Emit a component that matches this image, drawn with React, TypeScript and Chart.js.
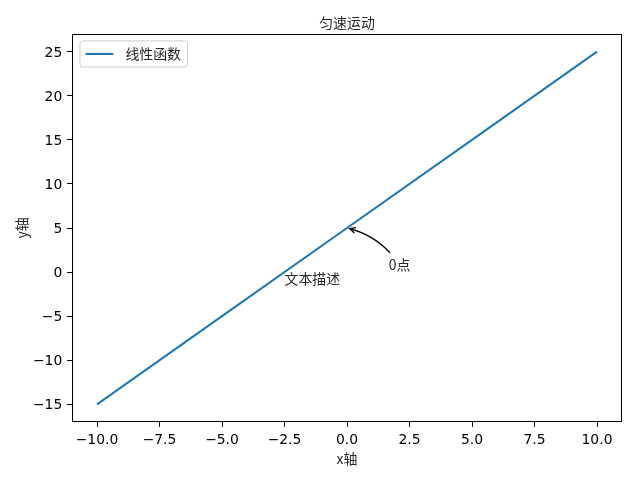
import React, { useEffect, useRef } from 'react';
import { Chart, registerables } from 'chart.js';

Chart.register(...registerables);

const X_VALUES = [-10, -5, 0, 5, 10];
const Y_VALUES = [-15, -5, 5, 15, 25];
const SERIES_LABEL = '线性函数';
const X_TICKS = [-10, -7.5, -5, -2.5, 0, 2.5, 5, 7.5, 10];
const Y_TICKS = [-15, -10, -5, 0, 5, 10, 15, 20, 25];
const X_MIN = -11;
const X_MAX = 11;
const Y_MIN = -17;
const Y_MAX = 27;
const TITLE = '匀速运动';
const X_LABEL = 'x轴';
const Y_LABEL = 'y轴';
const ANNOT_X = 0;
const ANNOT_Y = 5;
const ANNOT_TEXT = '0点';
const NOTE_X = -2.5;
const NOTE_Y = -1.3;
const NOTE_TEXT = '文本描述';

const LINE_COLOR = '#1f77b4';
const CJK = '"Noto Sans CJK SC", "Noto Sans", sans-serif';
const LATIN = '"DejaVu Sans", sans-serif';
const FS = 13.9;
const CJK_COLOR = '#262626';

const fmtMinus = (s: string) => s.replace('-', '\u2212');

const decor = {
  id: 'decor',
  afterDraw(chart: any) {
    const { ctx, chartArea: a, scales } = chart;
    const xs = scales.x;
    const ys = scales.y;
    ctx.save();

    // axes box
    ctx.strokeStyle = '#000';
    ctx.lineWidth = 1;
    ctx.strokeRect(a.left + 0.5, a.top + 0.5, a.right - a.left - 1, a.bottom - a.top - 1);

    ctx.fillStyle = CJK_COLOR;
    ctx.font = `${FS}px ${CJK}`;

    // title
    ctx.textAlign = 'center';
    ctx.textBaseline = 'alphabetic';
    ctx.fillText(TITLE, (a.left + a.right) / 2, a.top - 6.5);

    // x label
    ctx.textBaseline = 'middle';
    ctx.fillText(X_LABEL, (a.left + a.right) / 2, 459);

    // y label
    ctx.save();
    ctx.translate(22, (a.top + a.bottom) / 2);
    ctx.rotate(-Math.PI / 2);
    ctx.fillText(Y_LABEL, 0, 0);
    ctx.restore();

    // note text
    ctx.textAlign = 'left';
    ctx.textBaseline = 'alphabetic';
    ctx.fillText(NOTE_TEXT, xs.getPixelForValue(NOTE_X), ys.getPixelForValue(NOTE_Y));

    // annotation with arrow
    const px = xs.getPixelForValue(ANNOT_X);
    const py = ys.getPixelForValue(ANNOT_Y);
    const off = 30 * 1.389;
    const tx = px + off;
    const ty = py + off;
    ctx.fillText(ANNOT_TEXT, tx, ty);
    const tw = ctx.measureText(ANNOT_TEXT).width;
    const bTop = ty - 12;
    const bBot = ty + 3;
    const pad = 2.78;
    const rx0 = tx - pad, rx1 = tx + tw + pad, ry0 = bTop - pad, ry1 = bBot + pad;
    const p1x = tx + tw / 2, p1y = (bTop + bBot) / 2;
    const p2x = px, p2y = py;
    const dx = p2x - p1x;
    const dyUp = -(p2y - p1y);
    const mx = (p1x + p2x) / 2, myUp = -(p1y + p2y) / 2;
    const cx = mx + 0.2 * dyUp;
    const cy = -(myUp - 0.2 * dx);
    const N = 400;
    const pts: [number, number][] = [];
    for (let i = 0; i <= N; i++) {
      const t = i / N;
      const u = 1 - t;
      pts.push([u * u * p1x + 2 * u * t * cx + t * t * p2x, u * u * p1y + 2 * u * t * cy + t * t * p2y]);
    }
    let s = 0;
    while (s < N && pts[s][0] >= rx0 && pts[s][0] <= rx1 && pts[s][1] >= ry0 && pts[s][1] <= ry1) s++;
    const sx = pts[s][0], sy = pts[s][1];
    while (s < N && Math.hypot(pts[s][0] - sx, pts[s][1] - sy) < 2.78) s++;
    let e = N;
    while (e > s && Math.hypot(pts[e][0] - p2x, pts[e][1] - p2y) < 2.78) e--;
    ctx.strokeStyle = '#000';
    ctx.lineWidth = 1.4;
    ctx.beginPath();
    ctx.moveTo(pts[s][0], pts[s][1]);
    for (let i = s + 1; i <= e; i++) ctx.lineTo(pts[i][0], pts[i][1]);
    ctx.stroke();
    const ex = pts[e][0], ey = pts[e][1];
    const bx = pts[Math.max(s, e - 20)][0], by = pts[Math.max(s, e - 20)][1];
    const dl = Math.hypot(ex - bx, ey - by) || 1;
    const ux = (ex - bx) / dl, uy = (ey - by) / dl;
    const hl = 0.4 * FS, hw = 0.2 * FS;
    ctx.beginPath();
    ctx.moveTo(ex - hl * ux - hw * uy, ey - hl * uy + hw * ux);
    ctx.lineTo(ex, ey);
    ctx.lineTo(ex - hl * ux + hw * uy, ey - hl * uy - hw * ux);
    ctx.stroke();

    // legend
    const lx = a.left + 0.5 * FS + 1;
    const ly = a.top + 0.5 * FS;
    ctx.font = `${FS}px ${CJK}`;
    const ltw = ctx.measureText(SERIES_LABEL).width;
    const lw = 0.4 * FS + 2 * FS + 0.8 * FS + ltw + 0.4 * FS + 2;
    const lh = 26;
    const r = 3;
    ctx.beginPath();
    ctx.moveTo(lx + r, ly);
    ctx.lineTo(lx + lw - r, ly);
    ctx.quadraticCurveTo(lx + lw, ly, lx + lw, ly + r);
    ctx.lineTo(lx + lw, ly + lh - r);
    ctx.quadraticCurveTo(lx + lw, ly + lh, lx + lw - r, ly + lh);
    ctx.lineTo(lx + r, ly + lh);
    ctx.quadraticCurveTo(lx, ly + lh, lx, ly + lh - r);
    ctx.lineTo(lx, ly + r);
    ctx.quadraticCurveTo(lx, ly, lx + r, ly);
    ctx.closePath();
    ctx.fillStyle = 'rgba(255,255,255,0.8)';
    ctx.fill();
    ctx.strokeStyle = '#cccccc';
    ctx.lineWidth = 1;
    ctx.stroke();
    const cyL = ly + lh / 2;
    ctx.strokeStyle = LINE_COLOR;
    ctx.lineWidth = 2.08;
    ctx.beginPath();
    ctx.moveTo(lx + 0.4 * FS, cyL);
    ctx.lineTo(lx + 2.4 * FS, cyL);
    ctx.stroke();
    ctx.fillStyle = CJK_COLOR;
    ctx.textAlign = 'left';
    ctx.textBaseline = 'middle';
    ctx.fillText(SERIES_LABEL, lx + 3.2 * FS + 1, cyL);

    ctx.restore();
  },
};

export default function App() {
  const ref = useRef<HTMLCanvasElement | null>(null);
  useEffect(() => {
    document.body.style.margin = '0';
    if (!ref.current) return;
    const tickCommon = {
      grid: {
        display: true,
        drawOnChartArea: false,
        drawTicks: true,
        tickLength: 4.86,
        tickColor: '#000',
        tickWidth: 1,
        color: '#000',
      },
      border: { display: false },
    };
    const chart = new Chart(ref.current, {
      type: 'line',
      data: {
        datasets: [
          {
            label: SERIES_LABEL,
            data: X_VALUES.map((x, i) => ({ x, y: Y_VALUES[i] })),
            borderColor: LINE_COLOR,
            backgroundColor: LINE_COLOR,
            borderWidth: 2.08,
            pointRadius: 0,
            fill: false,
            tension: 0,
          },
        ],
      },
      options: {
        animation: false,
        responsive: false,
        devicePixelRatio: 1,
        layout: { padding: { top: 34, right: 18, left: 0, bottom: 0 } },
        plugins: {
          legend: { display: false },
          title: { display: false },
          tooltip: { enabled: false },
        },
        scales: {
          x: {
            type: 'linear',
            min: X_MIN,
            max: X_MAX,
            ...tickCommon,
            afterBuildTicks: (s: any) => {
              s.ticks = X_TICKS.map((v) => ({ value: v }));
            },
            afterFit: (s: any) => {
              s.height = 58;
            },
            ticks: {
              autoSkip: false,
              maxRotation: 0,
              padding: 4.86,
              color: '#000',
              font: { family: LATIN, size: FS },
              callback: (v: any) => fmtMinus(Number(v).toFixed(1)),
            },
          },
          y: {
            type: 'linear',
            min: Y_MIN,
            max: Y_MAX,
            ...tickCommon,
            afterBuildTicks: (s: any) => {
              s.ticks = Y_TICKS.map((v) => ({ value: v }));
            },
            afterFit: (s: any) => {
              s.width = 72;
            },
            ticks: {
              autoSkip: false,
              padding: 4.86,
              labelOffset: 1.5,
              color: '#000',
              font: { family: LATIN, size: FS },
              callback: (v: any) => fmtMinus(String(Math.round(Number(v)))),
            },
          },
        },
      },
      plugins: [decor],
    } as any);
    return () => chart.destroy();
  }, []);
  return (
    <div style={{ width: 640, height: 480 }}>
      <canvas ref={ref} width={640} height={480} style={{ display: 'block' }} />
    </div>
  );
}
